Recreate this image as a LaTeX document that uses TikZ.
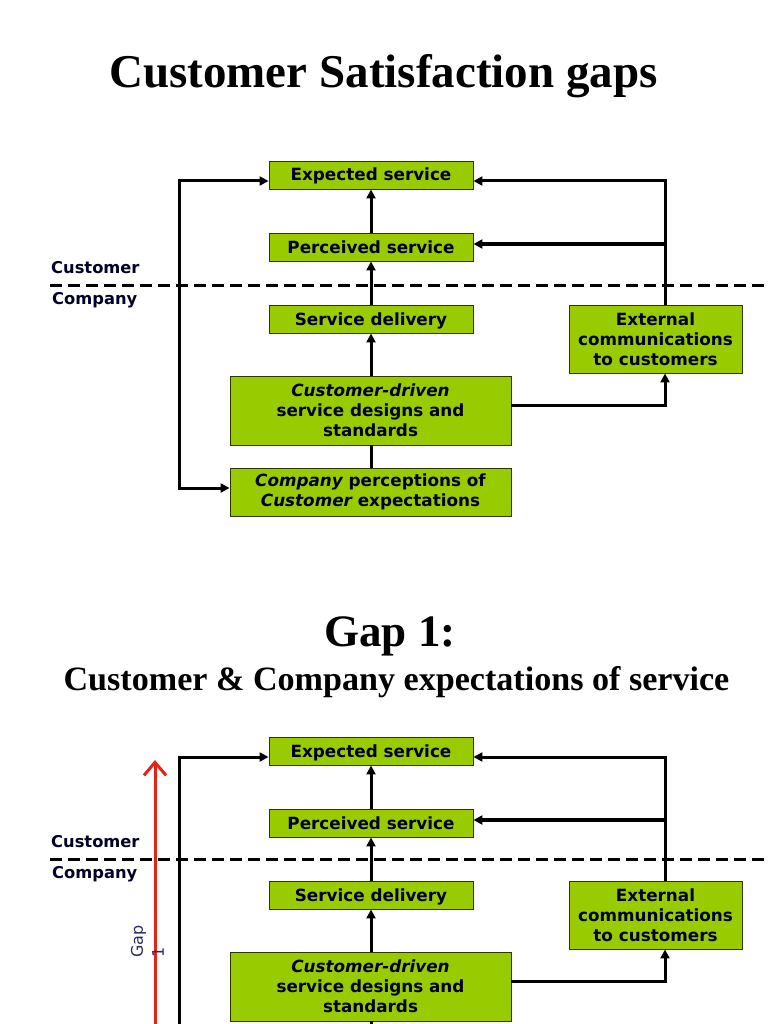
\documentclass[tikz,border=0pt]{standalone}
\usepackage{fontspec}
\setmainfont{Liberation Serif}
\newfontfamily\boxfont{DejaVu Sans}
\usetikzlibrary{arrows.meta}
\definecolor{boxgreen}{RGB}{153,204,0}
\definecolor{boxtext}{RGB}{0,0,40}
\definecolor{boxedge}{RGB}{45,55,0}
\definecolor{gapred}{RGB}{230,35,20}
\definecolor{gapblue}{RGB}{40,40,110}
\begin{document}
\begin{tikzpicture}[x=1pt,y=-1pt,
  gbox/.style={draw=boxedge,line width=0.9pt,fill=boxgreen,text=boxtext,
    font=\boxfont\bfseries\fontsize{16.8}{20}\selectfont,align=center,inner sep=0pt},
  smallbox/.style={gbox,minimum width=204pt,minimum height=28pt,text height=12pt,text depth=0pt},
  conn/.style={line width=3pt,-{Triangle[length=9pt,width=9pt]}},
  biconn/.style={line width=3pt,{Triangle[length=9pt,width=9pt]}-{Triangle[length=9pt,width=9pt]}},
  plainconn/.style={line width=3pt},
  thickconn/.style={line width=4pt,-{Triangle[length=9pt,width=9pt]}},
  divider/.style={line width=3pt,dash pattern=on 12pt off 6pt},
  sidelabel/.style={anchor=west,text=boxtext,font=\boxfont\bfseries\fontsize{16.3}{18}\selectfont,inner sep=0pt},
  titlefont/.style={font=\bfseries\fontsize{47}{50}\selectfont,inner sep=0pt,anchor=base},
]
\useasboundingbox (0,0) rectangle (768,1024);
\fill[white] (0,0) rectangle (768,1024);

% ---------- Top diagram ----------
\node[titlefont] (title) at (383.5,88) {Customer Satisfaction gaps};

\node[smallbox] (exp1) at (371,175) {Expected service};
\node[smallbox] (per1) at (371,247) {Perceived service};
\node[smallbox] (del1) at (371,319) {Service delivery};
\node[gbox,minimum width=173pt,minimum height=68pt] (ext1) at (655.5,339) {External\\communications\\to customers};
\node[gbox,minimum width=281pt,minimum height=69pt] (cdr1) at (370.5,410.5) {\itshape Customer-driven\\service designs and\\standards};
\node[gbox,minimum width=281pt,minimum height=48pt] (cpe1) at (370.5,492) {\itshape Company\upshape\ perceptions of\\\itshape Customer\upshape\ expectations};

\node[sidelabel] (cust1) at (51,268) {Customer};
\node[sidelabel] (comp1) at (52,300) {Company};
\coordinate (D1a) at (50,285);
\coordinate (D1b) at (770,285);
\draw[divider] (D1a) -- (D1b);

\draw[conn] (per1.north) -- (exp1.south);
\draw[conn] (del1.north) -- (per1.south);
\draw[conn] (del1.south |- cdr1.north) -- (del1.south);
\draw[plainconn] (del1.south |- cpe1.north) -- (del1.south |- cdr1.south);

\coordinate (L1t) at (179,181);
\coordinate (L1b) at (179,488);
\draw[biconn] (exp1.west |- L1t) -- (L1t) -- (L1b) -- (cpe1.west |- L1b);

\coordinate (R1t) at (665,181);
\coordinate (R1m) at (665,244);
\coordinate (R1c) at (665,405);
\draw[conn] (ext1.north -| R1t) -- (R1t) -- (exp1.east |- R1t);
\draw[thickconn] (R1m) -- (per1.east |- R1m);
\draw[conn] (cdr1.east |- R1c) -- (R1c) -- (ext1.south -| R1c);

% ---------- Bottom diagram ----------
\node[titlefont,font=\bfseries\fontsize{45}{48}\selectfont] (gaptitle) at (390,646) {Gap 1:};
\node[titlefont,font=\bfseries\fontsize{34.1}{38}\selectfont] (subtitle) at (396.5,690) {Customer \& Company expectations of service};

\node[smallbox] (exp2) at (371,751) {Expected service};
\node[smallbox] (per2) at (371,823) {Perceived service};
\node[smallbox] (del2) at (371,895) {Service delivery};
\node[gbox,minimum width=173pt,minimum height=68pt] (ext2) at (655.5,915) {External\\communications\\to customers};
\node[gbox,minimum width=281pt,minimum height=69pt] (cdr2) at (370.5,986.5) {\itshape Customer-driven\\service designs and\\standards};

\node[sidelabel] (cust2) at (51,842) {Customer};
\node[sidelabel] (comp2) at (52,874) {Company};
\coordinate (D2a) at (50,859);
\coordinate (D2b) at (770,859);
\draw[divider] (D2a) -- (D2b);

\draw[conn] (per2.north) -- (exp2.south);
\draw[conn] (del2.north) -- (per2.south);
\draw[conn] (del2.south |- cdr2.north) -- (del2.south);
\coordinate (B2) at (371,1030);
\draw[plainconn] (B2) -- (del2.south |- cdr2.south);

\coordinate (L2t) at (179,757);
\coordinate (L2b) at (179,1030);
\draw[conn] (L2b) -- (L2t) -- (exp2.west |- L2t);

\coordinate (R2t) at (665,757);
\coordinate (R2m) at (665,820);
\coordinate (R2c) at (665,981);
\draw[conn] (ext2.north -| R2t) -- (R2t) -- (exp2.east |- R2t);
\draw[thickconn] (R2m) -- (per2.east |- R2m);
\draw[conn] (cdr2.east |- R2c) -- (R2c) -- (ext2.south -| R2c);

% Gap arrow
\coordinate (G1b) at (155,1030);
\coordinate (G1t) at (155,760);
\draw[gapred,line width=3pt,-{Straight Barb[length=13pt,width=22pt,line width=3pt]}] (G1b) -- (G1t);
\node[rotate=90,align=left,text=gapblue,font=\boxfont\fontsize{16}{21}\selectfont,inner sep=0pt] (gaplabel) at (147.5,941.5) {Gap\\1};
\end{tikzpicture}
\end{document}
